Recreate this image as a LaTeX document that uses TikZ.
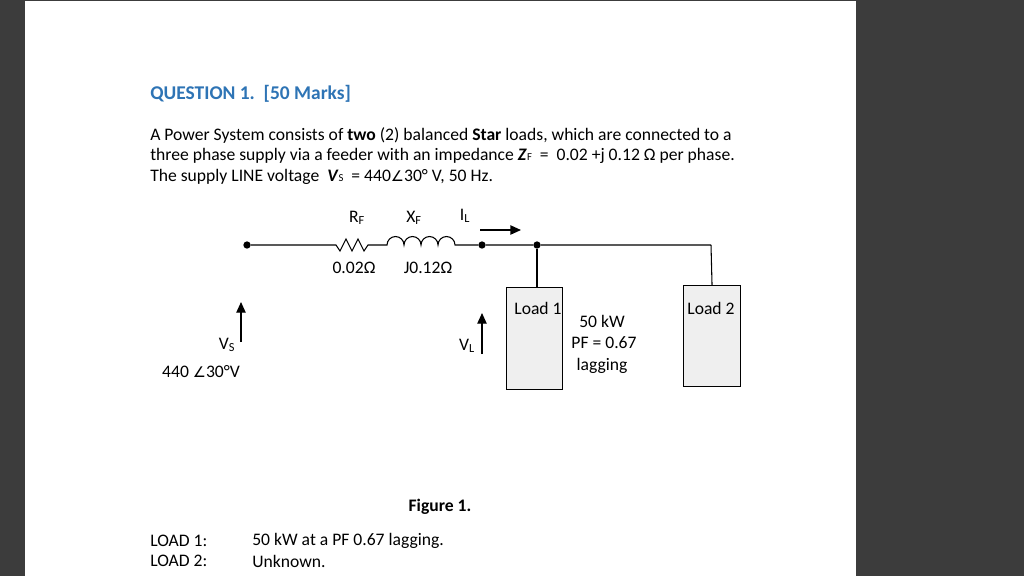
\documentclass[tikz,border=0pt]{standalone}
\usepackage{fontspec}
\setmainfont{Carlito}
\newfontfamily\angfont{DejaVu Sans}
\newcommand{\ang}{{\angfont\fontsize{11}{13}\selectfont ∠}}
\usetikzlibrary{arrows.meta}
\definecolor{bgdark}{HTML}{3C3C3C}
\definecolor{qblue}{HTML}{2E74B5}
\definecolor{boxfill}{HTML}{EFEFEF}
\begin{document}
\begin{tikzpicture}[x=0.75pt,y=0.75pt,
  txt/.style={inner sep=0pt,font=\fontsize{13.2}{15}\selectfont},
  lt/.style={txt,anchor=west},
  dot/.style={circle,fill=black,inner sep=0pt,minimum size=5.5pt},
  load/.style={draw,fill=boxfill,line width=0.8pt,anchor=north west,inner sep=0pt},
  wire/.style={line width=0.8pt},
  arr/.style={line width=1pt,-{Triangle[length=8pt,width=7pt]}}]
\useasboundingbox (0,0) rectangle (1024,-576);
\fill[bgdark] (0,0) rectangle (1024,-576);
\fill[white] (25,-1) rectangle (856,-576);
% heading and text
\node[lt,text=qblue,font=\fontsize{14.6}{17}\bfseries\selectfont] (title) at (150,-94) {QUESTION 1.\ \ [50 Marks]};
\node[lt] (p1) at (150,-135) {A Power System consists of \textbf{two} (2) balanced \textbf{Star} loads, which are connected to a};
\node[lt] (p2) at (150,-156) {three phase supply via a feeder with an impedance \textbf{\textit{Z}}{\fontsize{8}{9}\selectfont F}\ \ =\ \ 0.02 +j 0.12 Ω per phase.};
\node[lt] (p3) at (150,-177) {The supply LINE voltage\ \ \textbf{\textit{V}}{\fontsize{8}{9}\selectfont S}\ \ =\ 440\ang30° V, 50 Hz.};
% circuit
\node[dot] (a) at (247,-245) {};
\node[dot] (b) at (482,-245) {};
\node[dot] (c) at (537,-245) {};
\coordinate (r1) at (336,-245);
\coordinate (r2) at (372,-245);
\coordinate (l1) at (387,-245);
\coordinate (l2) at (455,-245);
\coordinate (t2) at (711,-245);
\draw[wire] (a) -- (r1) -- ++(4,-6) -- ++(6,12) -- ++(6,-12) -- ++(6,12) -- ++(6,-12) -- ++(4,6) -- (r2) -- (l1)
  arc[start angle=180,end angle=0,radius=8.5] arc[start angle=180,end angle=0,radius=8.5]
  arc[start angle=180,end angle=0,radius=8.5] arc[start angle=180,end angle=0,radius=8.5] -- (b) -- (c) -- (t2);
\node[load,minimum width=56pt*0.75,minimum height=102pt*0.75] (L1) at (506,-287) {};
\node[load,minimum width=57pt*0.75,minimum height=101pt*0.75] (L2) at (683,-285) {};
\draw[wire] (c) -- (c|-L1.north);
\draw[wire] (t2) -- (L2.north);
\node[txt] at (538,-308) {Load 1};
\node[txt] at (711,-308) {Load 2};
\node[txt] (RF) at (357,-218) {R\textsubscript{F}};
\node[txt] (XF) at (414,-218) {X\textsubscript{F}};
\node[txt] (IL) at (465,-216) {I\textsubscript{L}};
\node[txt] (rv) at (354,-268) {0.02Ω};
\node[txt] (xv) at (428,-268) {J0.12Ω};
\coordinate (ia) at (480,-230); \coordinate (ib) at (521,-230);
\draw[arr] (ia) -- (ib);
\coordinate (vs1) at (241,-342); \coordinate (vs2) at (241,-302);
\draw[arr] (vs1) -- (vs2);
\node[txt] (VS) at (227,-345) {V\textsubscript{S}};
\node[txt] (VSv) at (201,-372) {440 \ang30°V};
\coordinate (vl1) at (482,-354); \coordinate (vl2) at (482,-313);
\draw[arr] (vl1) -- (vl2);
\node[txt] (VL) at (467,-346) {V\textsubscript{L}};
\node[txt] (pw) at (602,-321) {50 kW};
\node[txt] (pf) at (604,-343) {PF = 0.67};
\node[txt] (lg) at (602,-366) {lagging};
\node[txt,font=\fontsize{13.2}{15}\bfseries\selectfont] (fig) at (440,-507) {Figure 1.};
\node[lt] (d1) at (150,-541) {LOAD 1:};
\node[lt] (d1v) at (252,-541) {50 kW at a PF 0.67 lagging.};
\node[lt] (d2) at (150,-561) {LOAD 2:};
\node[lt] (d2v) at (252,-561) {Unknown.};
\end{tikzpicture}
\end{document}
